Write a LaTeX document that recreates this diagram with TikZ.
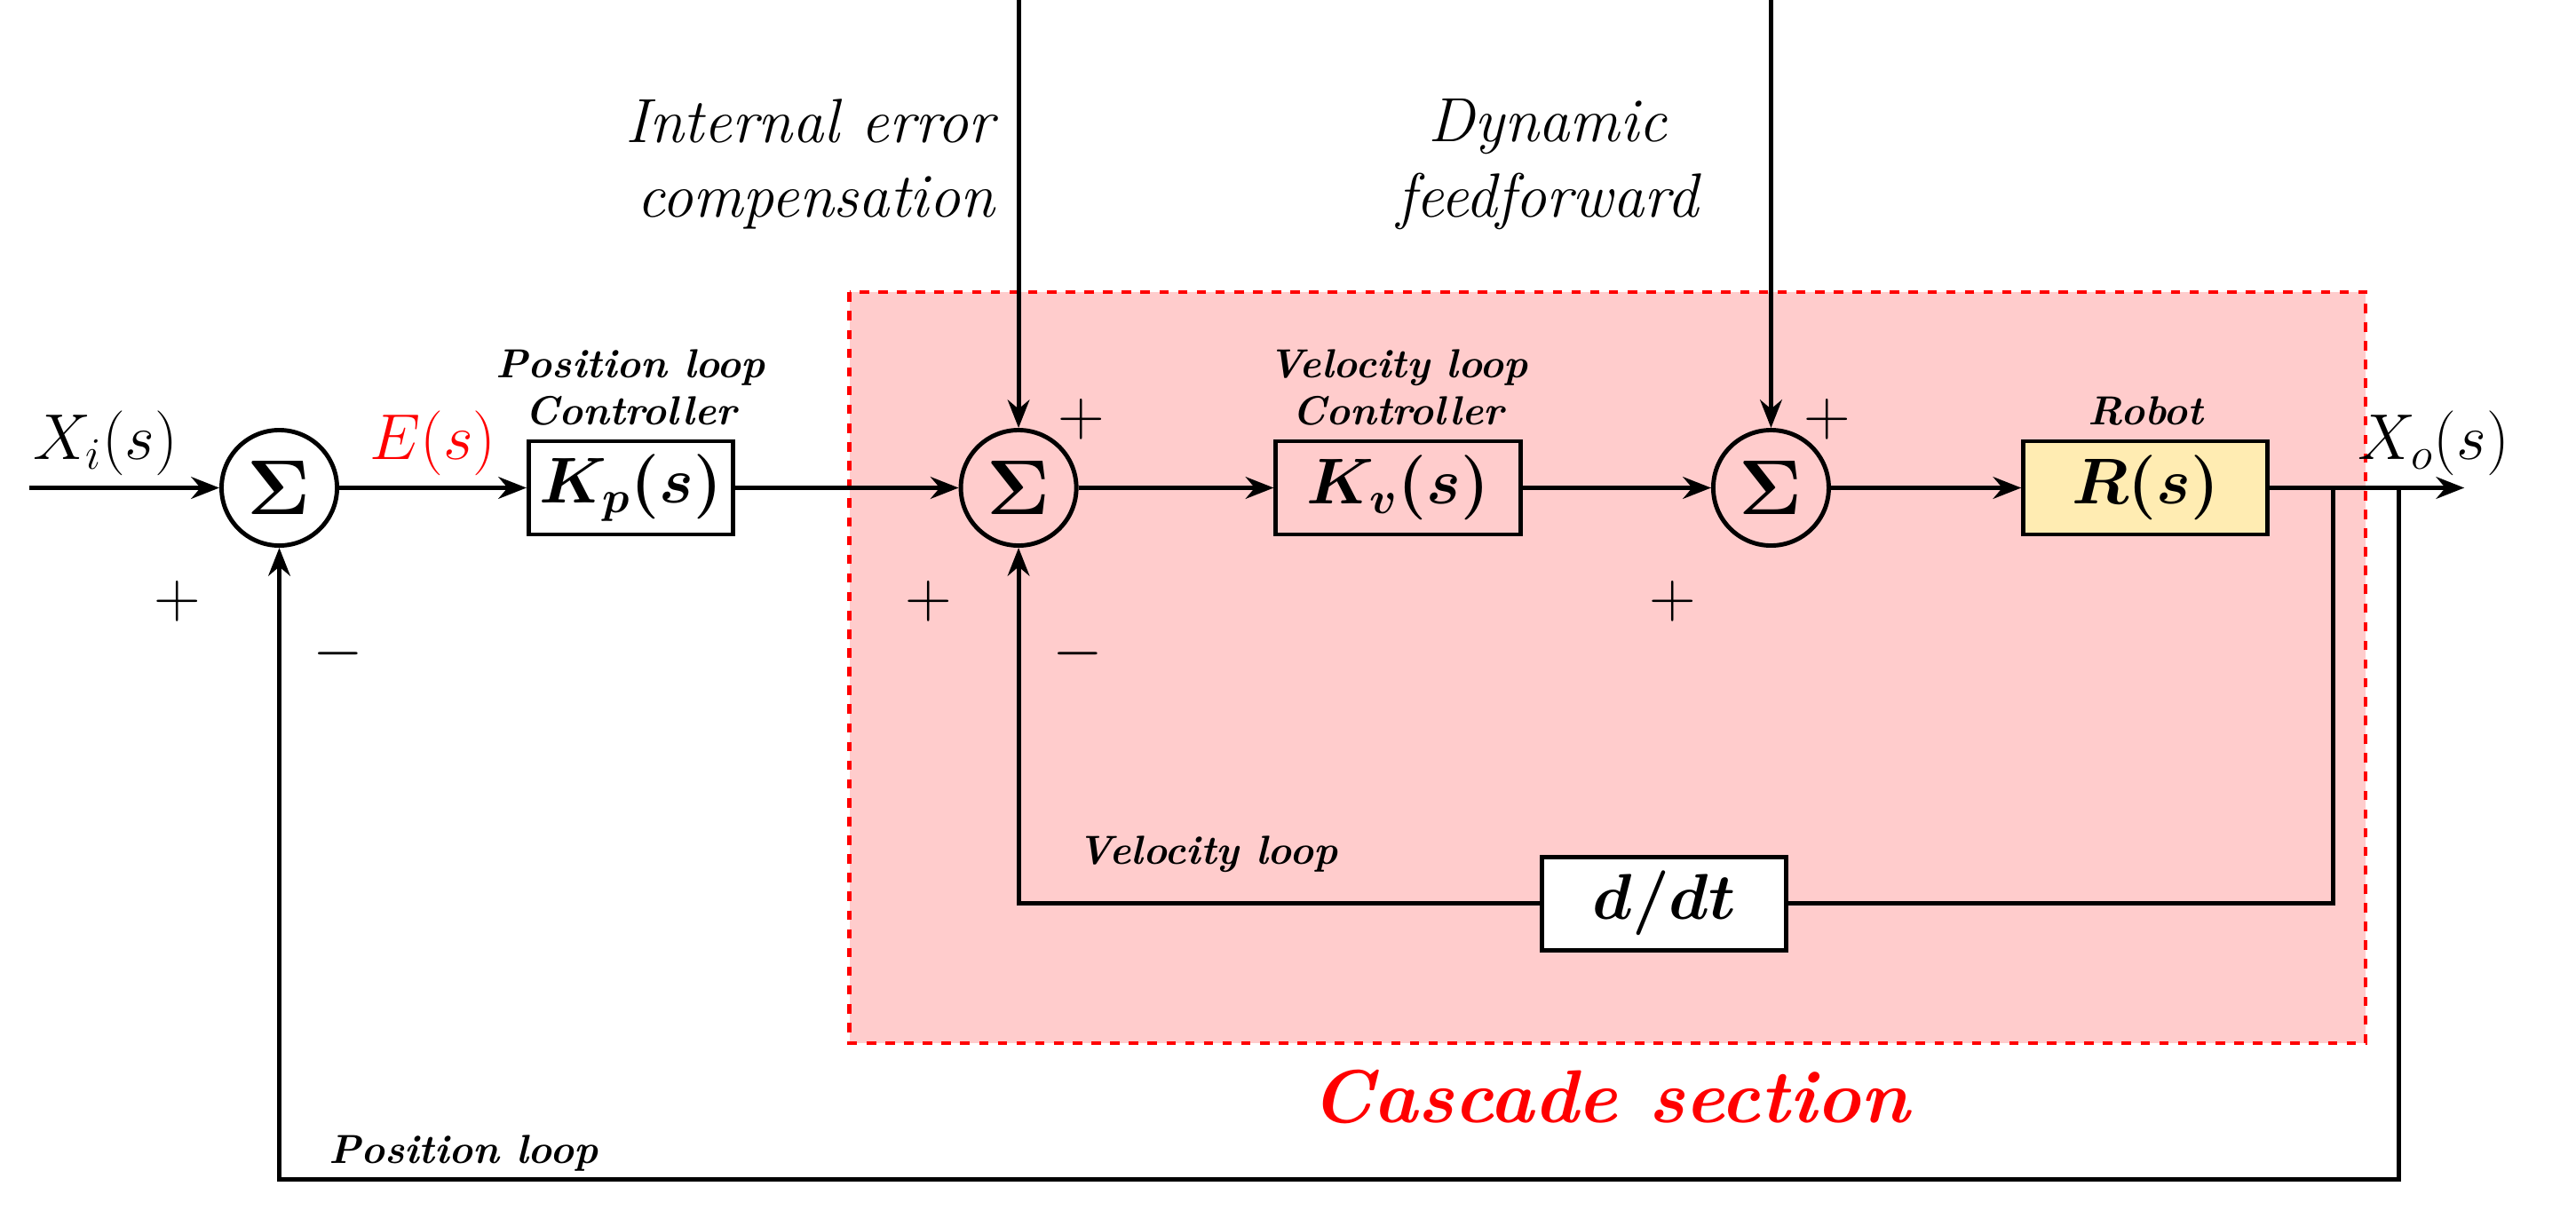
\documentclass[tikz,border=0pt]{standalone}
\usepackage{amsmath,bm}
\usetikzlibrary{positioning,arrows.meta}
\definecolor{cascpink}{RGB}{255,204,204}
\definecolor{robotyel}{RGB}{255,236,178}
\tikzset{
  blk/.style={draw, line width=1.4pt, minimum width=2.75cm, minimum height=1.05cm, font=\fontsize{22}{24}\selectfont},
  sumn/.style={draw, circle, line width=1.4pt, minimum size=1.3cm, inner sep=0pt, font=\fontsize{24}{26}\selectfont},
  sig/.style={font=\fontsize{20}{22}\selectfont},
  lbl/.style={font=\fontsize{13}{15}\selectfont\bfseries\itshape, align=center},
  big/.style={font=\fontsize{20}{24}\selectfont\itshape, align=center},
  sg/.style={->, line width=1.4pt, >={Stealth[length=9pt,width=7pt]}},
  ln/.style={line width=1.4pt}
}
\begin{document}
\begin{tikzpicture}[x=0.0185cm, y=-0.0185cm]
\useasboundingbox (0,0) rectangle (1568,746);
% cascade area
\draw[red, dashed, line width=1.2pt, fill=cascpink] (517,178) rectangle (1440,635);
\node[red, font=\fontsize{24}{26}\selectfont\bfseries\itshape] (casc) at (980,668) {Cascade section};
% blocks
\node[sumn] (s1) at (170,297) {$\bm\Sigma$};
\node[blk, minimum width=2.3cm] (kp) at (384,297) {$\bm{K_p(s)}$};
\node[sumn] (s2) at (620,297) {$\bm\Sigma$};
\node[blk] (kv) at (851,297) {$\bm{K_v(s)}$};
\node[sumn] (s3) at (1078,297) {$\bm\Sigma$};
\node[blk, fill=robotyel] (rob) at (1306,297) {$\bm{R(s)}$};
\node[blk, fill=white] (ddt) at (1013,550) {$\bm{d/dt}$};
% labels
\node[lbl] (kpl) at (384,236) {Position loop\\Controller};
\node[lbl] (kvl) at (851,236) {Velocity loop\\Controller};
\node[lbl] (robl) at (1306,250) {Robot};
\node[lbl] (vll) at (735,520) {Velocity loop};
\node[lbl] (pll) at (282,702) {Position loop};
\node[big, align=right, anchor=east] (iec) at (612,100) {Internal error\\compensation};
\node[big] (dff) at (942,100) {Dynamic\\feedforward};
% signals
\coordinate (in) at (18,297);
\coordinate (out) at (1500,297);
\coordinate (top2) at (620,0);
\coordinate (top3) at (1078,0);
\coordinate (b1) at (1420,297);
\coordinate (b2) at (1460,297);
\draw[sg] (in) -- (s1) node[pos=0.4, above, font=\fontsize{22}{24}\selectfont] {$X_i(s)$};
\draw[sg] (s1) -- (kp) node[midway, above, red, font=\fontsize{22}{24}\selectfont] {$E(s)$};
\draw[sg] (kp) -- (s2);
\draw[sg] (s2) -- (kv);
\draw[sg] (kv) -- (s3);
\draw[sg] (s3) -- (rob);
\draw[sg] (rob) -- (out) node[above right=0pt and -38pt, font=\fontsize{22}{24}\selectfont] {$X_o(s)$};
\draw[sg] (top2) -- (s2);
\draw[sg] (top3) -- (s3);
\draw[sg] (b1) |- (ddt) -| (s2);
\draw[sg] (b2) |- (170,718) -- (s1);
% signs
\node[sig] at (108,366) {$+$};
\node[sig] at (206,398) {$-$};
\node[sig] at (565,366) {$+$};
\node[sig] at (658,255) {$+$};
\node[sig] at (656,398) {$-$};
\node[sig] at (1018,366) {$+$};
\node[sig] at (1112,255) {$+$};
\end{tikzpicture}
\end{document}
